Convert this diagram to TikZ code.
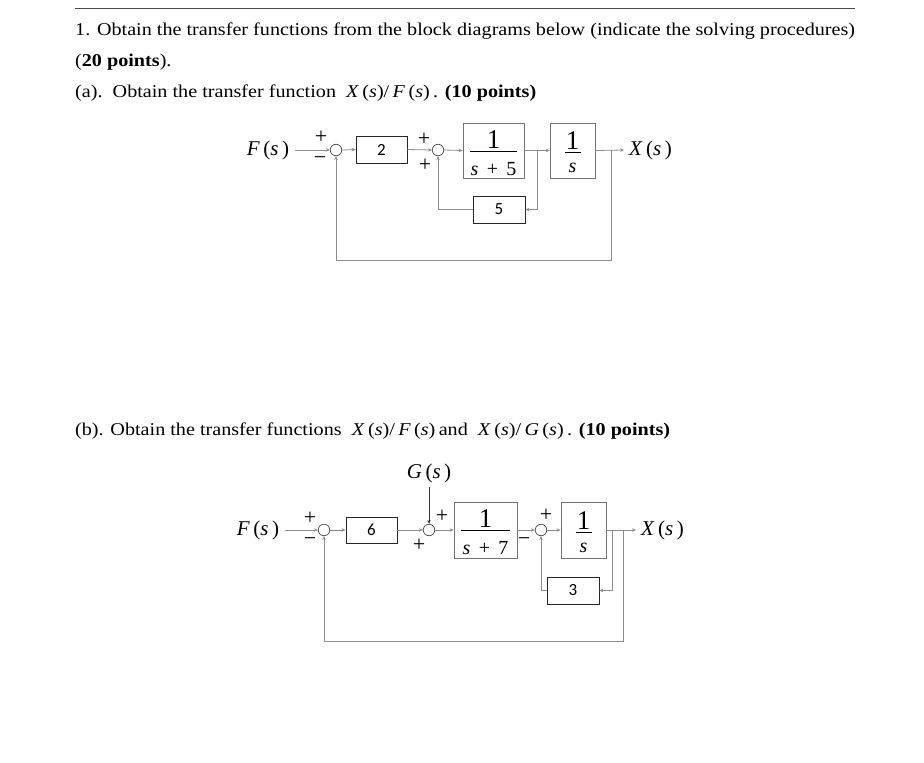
\documentclass[tikz,border=0pt]{standalone}
\usepackage{fontspec}
\setmainfont{Liberation Serif}
\newfontfamily\boxfont{Carlito}
\usetikzlibrary{arrows.meta}
% numerator, denominator, bar width, gap below bar
\newcommand{\myfrac}[4]{\vbox{\hbox to #3{\hss\fontsize{27}{27}\selectfont#1\hss}\kern2.5pt\hrule height0.7pt\kern#4\hbox to #3{\hss\fontsize{20}{20}\selectfont#2\hss}}}
\newcommand{\tscale}[1]{\scalebox{1.12}[1]{#1}}
\tikzset{
  sig/.style={draw=black!45, line width=0.8pt},
  arr/.style={sig, -{Stealth[length=4pt,width=3.5pt]}},
  sumj/.style={circle, draw=black!70, line width=0.7pt, minimum size=11.5pt, inner sep=0pt},
  gain/.style={draw=black!85, line width=0.8pt, inner sep=0pt, font=\boxfont\fontsize{17}{17}\selectfont},
  tf/.style={draw=black!55, line width=0.8pt, inner sep=0pt},
  fracnode/.style={inner sep=0pt},
  lbl/.style={font=\fontsize{21}{22}\selectfont, inner sep=0pt},
  sgn/.style={font=\fontsize{22}{22}\selectfont, inner sep=0pt},
  txt/.style={anchor=west, inner sep=0pt, font=\fontsize{18}{20}\selectfont},
}
\begin{document}
\begin{tikzpicture}[x=1pt,y=-1pt]
\useasboundingbox (0,0) rectangle (924,763);
% header
\coordinate (r1) at (75,8);
\coordinate (r2) at (855,8);
\draw[black!70, line width=0.8pt] (r1) -- (r2);
\node[txt] (t1) at (75,31) {\tscale{1. Obtain the transfer functions from the block diagrams below (indicate the solving procedures)}};
\node[txt] (t2) at (75,62) {\tscale{(\textbf{20 points}).}};
\node[txt] (t3) at (75,93) {\tscale{(a).\ \ Obtain the transfer function \ \textit{X}\,(\textit{s})/\,\textit{F}\,(\textit{s})\,. \textbf{(10 points)}}};
\node[txt] (t4) at (75,431) {\tscale{(b). Obtain the transfer functions \ \textit{X}\,(\textit{s})/\,\textit{F}\,(\textit{s})\,and \ \textit{X}\,(\textit{s})/\,\textit{G}\,(\textit{s})\,. \textbf{(10 points)}}};

% ---------- diagram (a)
\node[lbl] (Fa) at (268,150) {\textit{F}\,(\textit{s}\,)};
\node[sumj] (sa1) at (336,150) {};
\node[gain, minimum width=51pt, minimum height=27pt] (ba2) at (381.5,149.5) {2};
\node[sumj] (sa2) at (438,150) {};
\node[tf, minimum width=61pt, minimum height=55pt] (ba3) at (493.5,150.5) {};
\node[fracnode] (fa3) at ([yshift=-2.5pt]ba3.center) {\myfrac{1}{\textit{s}\ \,+\ \,5}{47pt}{10.5pt}};
\node[tf, minimum width=45pt, minimum height=55pt] (ba4) at (572.5,150.5) {};
\node[fracnode] (fa4) at ([yshift=-2pt]ba4.center) {\myfrac{1}{\textit{s}}{16pt}{10.5pt}};
\node[gain, minimum width=52pt, minimum height=27pt] (ba5) at (499,209.5) {5};
\node[lbl, anchor=west] (Xa) at (629,150) {\textit{X}\,(\textit{s}\,)};
\coordinate (ja1) at (537,150);
\coordinate (ja2) at (611,150);
\coordinate (ja3) at (537,209.5);
\coordinate (ja4) at (611,260);
\coordinate (ja5) at (336,260);
\coordinate (ja6) at (438,209.5);
\node[sgn] (pa1) at (321,137) {+};
\node[sgn] (ma1) at (320,161) {−};
\node[sgn] (pa2) at (424,139) {+};
\node[sgn] (pa3) at (425,165) {+};

\draw[arr] ([xshift=6pt]Fa.east) -- (sa1.west);
\draw[arr] (sa1.east) -- (ba2.west);
\draw[arr] (ba2.east) -- (sa2.west);
\draw[arr] (sa2.east) -- (ba3.west);
\draw[arr] (ba3.east) -- (ba4.west);
\draw[arr] (ja1) -- (ja3) -- (ba5.east);
\draw[arr] (ba5.west) -- (ja6) -- (sa2.south);
\draw[arr] (ba4.east) -- ([xshift=-5pt]Xa.west);
\draw[arr] (ja2) -- (ja4) -- (ja5) -- (sa1.south);

% ---------- diagram (b)
\node[lbl] (Fb) at (258,530) {\textit{F}\,(\textit{s}\,)};
\node[sumj] (sb1) at (324,530) {};
\node[gain, minimum width=51pt, minimum height=26pt] (bb6) at (371.5,530) {6};
\node[sumj] (sb2) at (429,530) {};
\node[lbl] (Gb) at (429,473) {\textit{G}\,(\textit{s}\,)};
\node[tf, minimum width=63pt, minimum height=56pt] (bb7) at (485.5,530) {};
\node[fracnode] (fb7) at ([yshift=-2.5pt]bb7.center) {\myfrac{1}{\textit{s}\ \,+\ \,7}{49pt}{10.5pt}};
\node[sumj] (sb3) at (541,530) {};
\node[tf, minimum width=45pt, minimum height=56pt] (bb8) at (583.5,530) {};
\node[fracnode] (fb8) at ([yshift=-2pt]bb8.center) {\myfrac{1}{\textit{s}}{16pt}{10.5pt}};
\node[gain, minimum width=52pt, minimum height=27pt] (bb3) at (573,590.5) {3};
\node[lbl, anchor=west] (Xb) at (641,530) {\textit{X}\,(\textit{s}\,)};
\coordinate (jb1) at (612,530);
\coordinate (jb2) at (623,530);
\coordinate (jb3) at (612,590.5);
\coordinate (jb4) at (541,590.5);
\coordinate (jb5) at (623,641);
\coordinate (jb6) at (324,641);
\node[sgn] (pb1) at (310,518) {+};
\node[sgn] (mb1) at (310,542) {−};
\node[sgn] (pb2) at (442,516) {+};
\node[sgn] (pb3) at (419,545) {+};
\node[sgn] (pb4) at (546,515) {+};
\node[sgn] (mb3) at (524,542) {−};

\draw[arr] ([xshift=6pt]Fb.east) -- (sb1.west);
\draw[arr] (sb1.east) -- (bb6.west);
\draw[arr] (bb6.east) -- (sb2.west);
\draw[arr, draw=black!80] ([yshift=-4pt]Gb.south) -- (sb2.north);
\draw[arr] (sb2.east) -- (bb7.west);
\draw[arr] (bb7.east) -- (sb3.west);
\draw[arr] (sb3.east) -- (bb8.west);
\draw[arr] (jb1) -- (jb3) -- (bb3.east);
\draw[arr] (bb3.west) -- (jb4) -- (sb3.south);
\draw[arr] (bb8.east) -- ([xshift=-5pt]Xb.west);
\draw[arr] (jb2) -- (jb5) -- (jb6) -- (sb1.south);
\end{tikzpicture}
\end{document}
